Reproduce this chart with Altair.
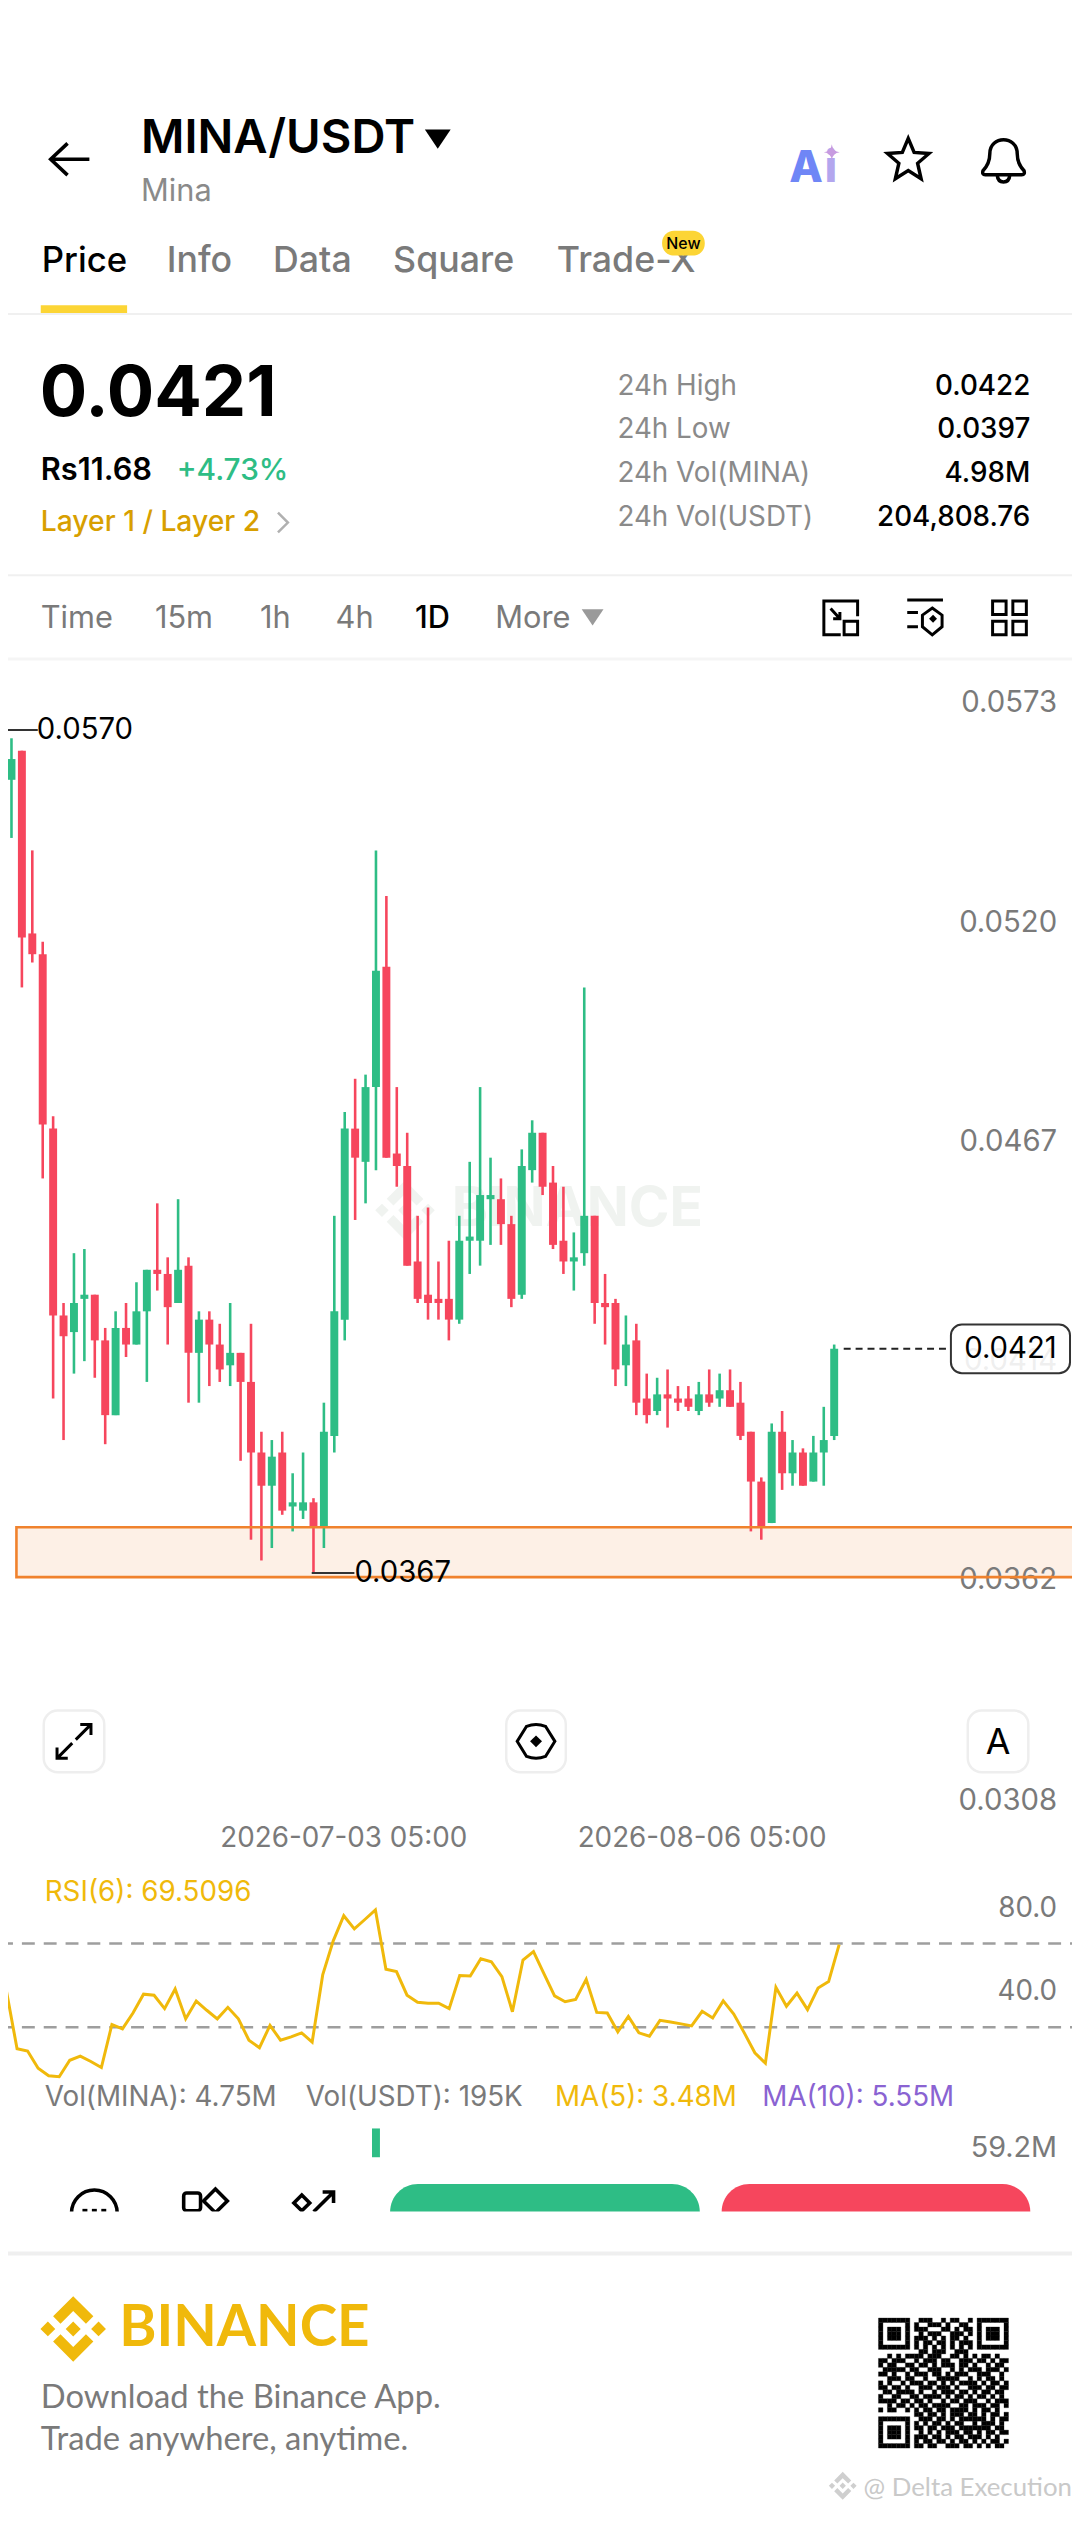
import altair as alt

# ---------- data ----------
idx = list(range(80))
# prices, in units of 0.0001
opens  = [558,565,521,516,474,429,425,433,434,423,405,426,422,430,440,439,432,441,420,428,422,417,420,413,396,388,396,383,382,384,378,400,
          428,474,466,484,513,468,465,442,434,433,433,428,447,447,457,457,451,434,464,473,461,447,442,444,453,432,432,417,423,409,406,410,409,409,406,410,409,411,408,401,389,379,401,391,396,389,396,400]
closes = [563,520,516,475,429,424,432,434,423,405,426,422,430,440,439,431,440,420,428,422,416,420,413,396,388,395,382,384,384,378,401,430,
          474,467,484,512,467,465,441,433,432,432,428,447,448,458,458,451,433,465,473,460,446,442,443,453,432,431,416,422,408,405,410,409,408,407,410,408,411,407,400,389,378,401,391,396,388,396,399,421]
highs  = [568,565,541,519,477,432,444,445,434,426,430,432,437,440,456,443,457,443,430,430,427,432,420,427,401,399,401,391,396,385,408,453,
          478,486,487,541,530,484,473,453,455,442,447,453,466,484,467,462,453,469,476,473,465,460,449,508,453,439,433,429,427,415,414,416,412,412,413,416,415,416,413,401,390,403,406,399,397,400,407,422]
lows   = [544,508,514,462,409,399,415,418,414,398,405,419,422,413,435,422,432,408,408,412,413,412,394,375,370,373,381,377,380,367,373,396,
          423,452,456,464,467,460,441,432,428,428,423,427,439,441,446,446,431,433,461,458,445,439,435,441,427,422,412,412,405,403,405,402,406,406,405,407,407,407,399,377,375,379,387,388,388,389,388,399]
rsi_idx = list(range(-1, 80))
rsi = [39.2,47.1,19.7,18.6,10.4,6.8,6.3,14.2,16.2,13.6,10.7,31.3,29.2,36.8,45.8,45.3,38.9,48.3,34.0,42.5,38.1,34.0,39.5,34.0,23.8,20.2,30.9,
       23.8,25.4,27.3,22.9,55.0,71.3,83.3,77.0,81.5,86.1,57.7,56.6,45.3,41.9,41.5,41.5,38.9,54.7,54.5,62.7,61.3,54.2,37.4,62.1,66.2,55.5,45.0,
       42.2,43.3,52.9,37.1,36.8,27.8,35.2,27.3,25.7,33.3,32.5,31.6,30.6,37.6,34.4,42.6,36.3,27.3,17.8,12.8,49.1,40.0,46.3,38.4,48.7,51.8,69.5]
price_ticks = [0.05729, 0.05200, 0.04671, 0.04144, 0.03616, 0.03084]
rsi_ticks = [80, 40]
rsi_levels = [70, 30]
date_idx = [32, 66]
date_labels = ["2026-07-03 05:00", "2026-08-06 05:00"]
vol_idx = [35]
vol_vals = [59.2e6]
zone_hi, zone_lo = 0.0378, 0.0366
stat_names = ["24h High", "24h Low", "24h Vol(MINA)", "24h Vol(USDT)"]
stat_vals = ["0.0422", "0.0397", "4.98M", "204,808.76"]
qr_rows = [
"11111110011100101100101111111","10000010100111010011001000001","10111010111000110101101011101",
"10111010010111001110101011101","10111010111010101101001011101","10000010101101101011101000001",
"11111110101010101010101111111","00000000011011100111000000000","00101011110111001101010110100",
"11011100101110110011101101011","10110011011010111011010010110","01111101100111001010111011101",
"11010010111011010111001110010","00111011001001111100101011010","10100101110110101011110101101",
"11011010011101110100111011011","01101111010010111011010110110","10011001101111010110101101010",
"11110110110100101101110010111","00101101011011110011011101101","10110010101101101111010110100",
"00000000110110101110110101101","11111110011101101011111101011","10000010101011010110010111010",
"10111010110110111011111110110","10111010010101011101101011011","10111010111011010110111010100",
"10000010101101101011010101101","11111110110110011101101010110"]

# ---------- helpers ----------
GREEN, RED, GOLD, GREY = "#2EBD85", "#F6465D", "#F0B90B", "#7A7A7A"
MX, MY = 8, 16  # offset of the drawing from the page corner
ONE = alt.Data(values=[{"_": 0}])

def label(t, x, y, size, color="#000000", weight=400, align="left", font="Inter", **kw):
    return alt.Chart(ONE).mark_text(font=font, fontSize=size, fontWeight=weight, align=align,
                                    baseline="middle", color=color, **kw).encode(
        text=alt.value(t), x=alt.value(x - MX), y=alt.value(y - MY))

def box(x0, x1, y0, y1, fill="#FFFFFF", stroke=None, sw=0, r=0, **kw):
    args = dict(fill=fill, **kw)
    if stroke:
        args.update(stroke=stroke, strokeWidth=sw)
    if r:
        args["cornerRadius"] = r
    return alt.Chart(ONE).mark_rect(**args).encode(
        x=alt.value(x0 - MX), x2=alt.value(x1 - MX), y=alt.value(y0 - MY), y2=alt.value(y1 - MY))

def icon(path, x, y, w, color="#000000", sw=3.0, filled=False):
    args = dict(shape=path, size=w * w, opacity=1)
    if filled:
        args.update(filled=True, fill=color, strokeWidth=0)
    else:
        args.update(filled=False, stroke=color, strokeWidth=sw)
    return alt.Chart(ONE).mark_point(**args).encode(x=alt.value(x - MX), y=alt.value(y - MY))

LOGO = ("M-0.388,-0.16 L0,-0.548 L0.389,-0.159 L0.615,-0.385 L0,-1 L-0.614,-0.386 Z "
        "M-0.388,0.16 L0,0.548 L0.389,0.159 L0.615,0.385 L0,1 L-0.614,0.386 Z "
        "M-1,0 L-0.774,-0.226 L-0.548,0 L-0.774,0.226 Z M1,0 L0.774,-0.226 L0.548,0 L0.774,0.226 Z "
        "M0.229,0 L0,-0.229 L-0.229,0 L0,0.229 Z")
STAR = "M0,-1 L0.27,-0.36 L0.95,-0.31 L0.43,0.14 L0.59,0.85 L0,0.47 L-0.59,0.85 L-0.43,0.14 L-0.95,-0.31 L-0.27,-0.36 Z"
BELL = ("M-0.9,0.5 Q-0.6,0.2 -0.6,-0.25 C-0.6,-1.05 0.6,-1.05 0.6,-0.25 Q0.6,0.2 0.9,0.5 Q0.95,0.68 0.8,0.68 "
        "L-0.8,0.68 Q-0.95,0.68 -0.9,0.5 Z M-0.28,0.68 Q-0.25,1 0,1 Q0.25,1 0.28,0.68")
ARROW = "M1,0 L-0.95,0 M-0.1,-0.8 L-0.95,0 L-0.1,0.8"
ICON1 = "M0,1 L-1,1 L-1,-1 L1,-1 L1,-0.1 M0.2,0.2 H1 V1 H0.2 Z M-0.6,-0.55 L-0.05,0.05 M-0.05,-0.35 V0.05 H-0.45"
ICON2 = ("M-1,-1 H1 M-1,-0.3 H-0.4 M-1,0.5 H-0.4 M0.4,-0.55 L0.95,-0.15 V0.5 L0.4,0.95 L-0.15,0.5 V-0.15 Z")
ICON3 = ("M-1,-1 H-0.2 V-0.2 H-1 Z M0.2,-1 H1 V-0.2 H0.2 Z M-1,0.2 H-0.2 V1 H-1 Z M0.2,0.2 H1 V1 H0.2 Z")
EXPAND = "M0.1,-0.1 L0.95,-0.95 M0.35,-0.95 H0.95 V-0.35 M-0.1,0.1 L-0.95,0.95 M-0.35,0.95 H-0.95 V0.35"
EYE = "M-1,0 L-0.5,-0.8 Q0,-1 0.5,-0.8 L1,0 L0.5,0.8 Q0,1 -0.5,0.8 Z"
DIAMOND = "M0,-1 L1,0 L0,1 L-1,0 Z"
ARROW2 = "M-1,1 L1,-1 M-0.1,-1 H1 V0.1"
CHEV = "M-0.5,-1 L0.5,0 L-0.5,1"
SPARK = "M0,-1 Q0.1,-0.1 1,0 Q0.1,0.1 0,1 Q-0.1,0.1 -1,0 Q-0.1,-0.1 0,-1 Z"
TRI = "M-1,-0.7 H1 L0,0.8 Z"

# ---------- scales ----------
x_scale = alt.Scale(domain=[0, 79], range=[6.5 - MX, 845.4 - MX])
p_scale = alt.Scale(domain=[0.0367, 0.0570], range=[1583.3 - MY, 734.0 - MY])
r_scale = alt.Scale(domain=[30, 70], range=[2041.0 - MY, 1956.7 - MY])
v_scale = alt.Scale(domain=[0, 59.2e6], range=[2172.0 - MY, 2143.0 - MY])

X = alt.X("i:Q", scale=x_scale, axis=None)
def PY(field):
    return alt.Y(field, scale=p_scale, axis=None, title=None)

candles = alt.Data(values=[
    {"i": i, "o": o / 1e4, "c": c / 1e4, "h": h / 1e4, "l": l / 1e4, "d": "up" if c >= o else "down"}
    for i, o, c, h, l in zip(idx, opens, closes, highs, lows)])
color = alt.Color("d:N", scale=alt.Scale(domain=["up", "down"], range=[GREEN, RED]), legend=None)

price_labels = alt.Chart(alt.Data(values=[{"p": p} for p in price_ticks])).mark_text(
    font="Inter", fontSize=29.5, color=GREY, align="right", baseline="bottom").encode(
    x=alt.value(1065 - MX), y=PY("p:Q"), text=alt.Text("p:Q", format=".4f"))

zone_data = alt.Data(values=[{"a": zone_hi, "b": zone_lo}])
zone_fill = alt.Chart(zone_data).mark_rect(fill="#FDF0E6").encode(
    x=alt.value(16.5 - MX), x2=alt.value(1090), y=PY("a:Q"), y2="b:Q")
wick = alt.Chart(candles).mark_rule(strokeWidth=2.6).encode(x=X, y=PY("h:Q"), y2="l:Q", color=color)
body = alt.Chart(candles).mark_bar(size=8).encode(x=X, y=PY("o:Q"), y2="c:Q", color=color)
zone_line = alt.Chart(zone_data).mark_rect(fillOpacity=0, stroke="#F0822D", strokeWidth=2.6).encode(
    x=alt.value(16.5 - MX), x2=alt.value(1090), y=PY("a:Q"), y2="b:Q")

def note(value, x0, x1, tx, t):
    d = alt.Data(values=[{"p": value}])
    return (alt.Chart(d).mark_rule(color="#333333", strokeWidth=2).encode(
                x=alt.value(x0 - MX), x2=alt.value(x1 - MX), y=PY("p:Q")) +
            alt.Chart(d).mark_text(font="Inter", fontSize=29.5, align="left", baseline="middle", color="#000000").encode(
                x=alt.value(tx - MX), y=PY("p:Q"), text=alt.value(t)))

last = alt.Data(values=[{"p": closes[-1] / 1e4}])
last_line = alt.Chart(last).mark_rule(color="#222222", strokeWidth=2, strokeDash=[7, 5]).encode(
    x=alt.value(850 - MX), x2=alt.value(957 - MX), y=PY("p:Q"))
tag = box(958, 1078, 1333, 1382, fill="#FFFFFF", stroke="#333333", sw=2, r=11, fillOpacity=0.88)
tag_text = alt.Chart(last).mark_text(font="Inter", fontSize=29.5, align="center", baseline="middle", color="#000000").encode(
    x=alt.value(1018 - MX), y=PY("p:Q"), text=alt.value("0.0421"))

price_group = alt.layer(zone_fill, price_labels, wick, body, zone_line, note(0.0570, 0, 38, 37, "0.0570"),
                        note(0.0367, 314, 357, 357, "0.0367"), last_line, tag, tag_text)

# RSI panel
rsi_labels = alt.Chart(alt.Data(values=[{"v": v} for v in rsi_ticks])).mark_text(
    font="Inter", fontSize=28, color=GREY, align="right", baseline="bottom").encode(
    x=alt.value(1065 - MX), y=alt.Y("v:Q", scale=r_scale, axis=None, title=None),
    text=alt.Text("v:Q", format=".1f"))
rsi_rules = alt.Chart(alt.Data(values=[{"v": v} for v in rsi_levels])).mark_rule(
    color="#9E9E9E", strokeWidth=2.6, strokeDash=[13, 9]).encode(
    x=alt.value(-8), x2=alt.value(1080), y=alt.Y("v:Q", scale=r_scale, axis=None, title=None))
rsi_line = alt.Chart(alt.Data(values=[{"i": i, "v": v} for i, v in zip(rsi_idx, rsi)])).mark_line(
    color=GOLD, strokeWidth=3, clip=False).encode(x=X, y=alt.Y("v:Q", scale=r_scale, axis=None, title=None))
rsi_group = alt.layer(rsi_labels, rsi_rules, rsi_line)

# volume panel
vol_bar = alt.Chart(alt.Data(values=[{"i": i, "v": v} for i, v in zip(vol_idx, vol_vals)])).mark_bar(
    size=8, color=GREEN).encode(x=X, y=alt.Y("v:Q", scale=v_scale, axis=None, title=None))

# date labels on the candle index scale
dates = alt.Chart(alt.Data(values=[{"i": i, "t": t} for i, t in zip(date_idx, date_labels)])).mark_text(
    font="Inter", fontSize=28, color=GREY, align="center", baseline="middle").encode(
    x=X, y=alt.value(1851 - MY), text="t:N")

# QR code
qr_cells = [{"c": c, "c2": c + 1, "r": r, "r2": r + 1}
            for r, row in enumerate(qr_rows) for c, ch in enumerate(row) if ch == "1"]
qr = alt.Chart(alt.Data(values=qr_cells)).mark_rect(fill="#000000", stroke="#000000", strokeWidth=0.3).encode(
    x=alt.X("c:Q", scale=alt.Scale(domain=[0, 29], range=[885 - MX, 1016 - MX]), axis=None), x2="c2:Q",
    y=alt.Y("r:Q", scale=alt.Scale(domain=[0, 29], range=[2334 - MY, 2465 - MY]), axis=None), y2="r2:Q")

# ---------- page furniture ----------
top = [
    icon(ARROW, 70, 159, 40, sw=3.6),
    label("MINA/USDT", 142, 139, 47.5, weight=600),
    icon(TRI, 441, 138, 26, filled=True),
    label("Mina", 142, 192, 31, "#8A8A8A"),
    label("A", 795, 169, 44, "#6F86F6", 800),
    label("i", 831, 169, 44, "#B3A6EE", 800),
    icon(SPARK, 838, 152, 16, "#C79BE0", filled=True),
    icon(STAR, 915, 160, 44, sw=3.5),
    icon(BELL, 1011, 159, 46, sw=3.5),
]
tabs = [label(t, x, 262, s, c, w) for t, x, s, c, w in [
    ("Price", 42, 35, "#000000", 500), ("Info", 168, 36, GREY, 500), ("Data", 275, 36, GREY, 500),
    ("Square", 396, 36, GREY, 500), ("Trade-X", 561, 36, GREY, 500)]] + [
    box(667, 710, 231, 256, fill="#FCD535", r=12),
    label("New", 688.5, 244, 16, "#000000", 500, align="center"),
    box(0, 1090, 314, 316, fill="#F0F0F0"),
    box(41, 128, 306, 314, fill="#FCD535"),
]
ticker = [
    label("0.0421", 40, 397, 71, weight=700),
    label("Rs11.68", 41, 473, 31, weight=600),
    label("+4.73%", 178, 473, 30, GREEN, 500),
    label("Layer 1 / Layer 2", 41, 525, 28.5, "#D89F00", 500),
    icon(CHEV, 285, 525, 20, "#B0B0B0", sw=2.5),
    box(0, 1090, 577, 579, fill="#F0F0F0"),
] + [label(n, 622, y, 28, "#8A8A8A") for n, y in zip(stat_names, [389, 432, 476, 520])] + [
    label(v, 1038, y, 28, weight=500, align="right") for v, y in zip(stat_vals, [389, 432, 476, 520])]
toolbar = [label(t, x, 622, 31, c, w) for t, x, c, w in [
    ("Time", 41, GREY, 400), ("15m", 156, GREY, 400), ("1h", 262, GREY, 400), ("4h", 338, GREY, 400),
    ("1D", 418, "#000000", 500), ("More", 499, GREY, 400)]] + [
    icon(TRI, 597, 620, 22, "#9A9A9A", filled=True),
    icon(ICON1, 847, 621, 34, sw=3),
    icon(ICON2, 932, 621, 36, sw=3),
    icon(DIAMOND, 940, 622, 8, filled=True),
    icon(ICON3, 1017, 621, 34, sw=3),
    box(0, 1090, 661, 664, fill="#F5F5F5"),
]
watermark = [
    icon(LOGO, 408, 1218, 60, "#F0F3F0", filled=True),
    label("BINANCE", 455, 1217, 55.5, "#F0F3F0", 700),
]
controls = [
    box(44, 105, 1722, 1784, stroke="#EEEEEE", sw=2.5, r=14),
    icon(EXPAND, 74.5, 1753, 36, sw=3),
    box(510, 570, 1722, 1784, stroke="#EEEEEE", sw=2.5, r=14),
    icon(EYE, 540, 1753, 38, sw=3),
    icon(DIAMOND, 540, 1753, 12, filled=True),
    box(975, 1036, 1722, 1784, stroke="#EEEEEE", sw=2.5, r=14),
    label("A", 1005.5, 1755, 36, align="center"),
]
panel_text = [
    label("RSI(6): 69.5096", 45, 1906, 28, GOLD),
    label("Vol(MINA): 4.75M", 45, 2112, 28, GREY),
    label("Vol(USDT): 195K", 308, 2112, 28, GREY),
    label("MA(5): 3.48M", 559, 2112, 28, GOLD),
    label("MA(10): 5.55M", 768, 2112, 28, "#8A63D2"),
    label("59.2M", 1065, 2163, 29, GREY, align="right"),
]
nav = [
    alt.Chart(ONE).mark_point(shape="circle", size=46 * 46, filled=False, stroke="#000000", strokeWidth=3.6, opacity=1).encode(
        x=alt.value(95 - MX), y=alt.value(2228 - MY)),
    box(83, 88, 2224, 2227, fill="#000000"), box(92.5, 97.5, 2224, 2227, fill="#000000"), box(102, 107, 2224, 2227, fill="#000000"),
    box(185, 202, 2208, 2226, fill="#FFFFFF", stroke="#000000", sw=3.6, r=3),
    icon(DIAMOND, 217, 2216, 24, sw=3.6),
    icon(DIAMOND, 304, 2218, 16, sw=3.6),
    icon(ARROW2, 326, 2217, 20, sw=3.6),
    box(393, 705, 2199, 2270, fill=GREEN, r=28),
    box(727, 1038, 2199, 2270, fill=RED, r=28),
    box(0, 1090, 2226.7, 2540, fill="#FFFFFF"),
    box(0, 1090, 2267, 2271, fill="#EFEFEF"),
]
footer = [
    icon(LOGO, 73.7, 2345, 66, GOLD, filled=True),
    label("BINANCE", 120, 2345, 57, GOLD, 700, font="Lato"),
    label("Download the Binance App.", 41, 2415, 33, GREY, font="Lato"),
    label("Trade anywhere, anytime.", 41, 2457, 33, GREY, font="Lato"),
    qr,
    icon(LOGO, 849, 2503, 28, "#CFCFCF", filled=True),
    label("@ Delta Execution", 870, 2505, 26, "#C9C9C9", font="Lato"),
]

layers = (watermark + [price_group, rsi_group, vol_bar, dates] + nav + top + tabs + ticker + toolbar
          + controls + panel_text + footer)

chart = alt.layer(*layers).resolve_scale(x="independent", y="independent", color="independent").properties(
    width=1072, height=2500, padding=0, autosize=alt.AutoSizeParams(type="none"), background="#FFFFFF"
).configure_view(stroke=None)

chart.save("out.html", embed_options={"renderer": "svg", "actions": False})
